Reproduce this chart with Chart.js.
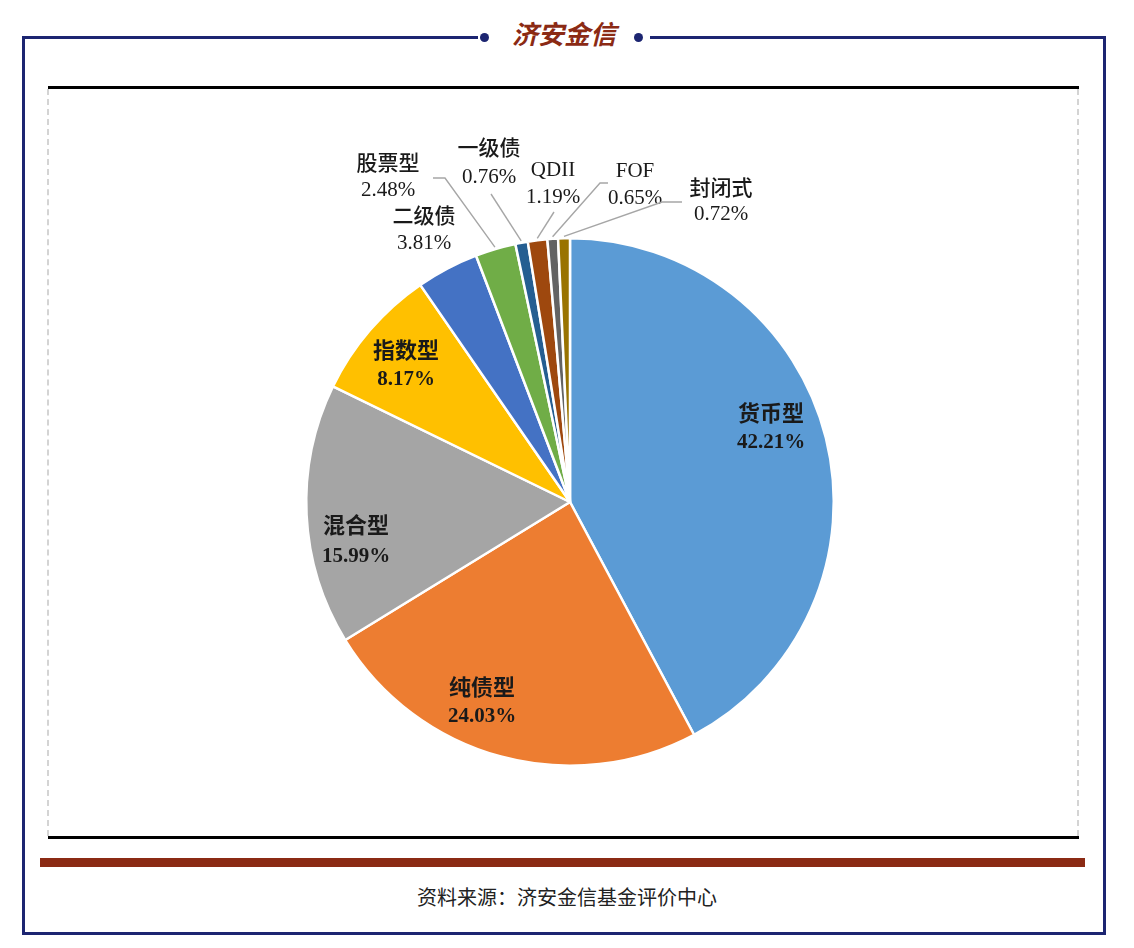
<!DOCTYPE html>
<html>
<head>
<meta charset="utf-8">
<script src="https://cdn.jsdelivr.net/npm/chart.js@4"></script>
<style>
  html,body{margin:0;padding:0;background:#fff;}
  #page{position:relative;width:1134px;height:948px;overflow:hidden;background:#fff;}
  .frame{position:absolute;left:22px;top:36px;width:1078px;height:893px;border:3px solid #1c2571;box-sizing:content-box;}
  .titlewrap{position:absolute;left:478px;top:18px;width:172px;height:34px;background:#fff;}
  .dot{position:absolute;width:9px;height:9px;border-radius:50%;background:#1c2571;top:33px;}
  .title{position:absolute;left:478px;top:15px;width:172px;text-align:center;font:italic bold 26px "Noto Sans CJK SC";color:#8b2a14;line-height:36px;}
  .topline{position:absolute;left:48px;top:86px;width:1031px;height:3px;background:#000;}
  .botline{position:absolute;left:48px;top:836px;width:1031px;height:3px;background:#000;}
  .side{position:absolute;top:89px;height:747px;width:0;border-left:2px dashed #d4d4d4;}
  .redbar{position:absolute;left:40px;top:858px;width:1045px;height:9px;background:#8b2a14;}
  .footer{position:absolute;left:0;width:1134px;top:882px;text-align:center;font:20px "Noto Sans CJK SC";color:#222;line-height:30px;}
  canvas{position:absolute;left:0;top:0;}
</style>
</head>
<body>
<div id="page">
  <div class="frame"></div>
  <div class="titlewrap"></div>
  <div class="dot" style="left:480px"></div>
  <div class="dot" style="left:634px"></div>
  <div class="title">济安金信</div>
  <div class="topline"></div>
  <div class="side" style="left:47px"></div>
  <div class="side" style="left:1077px"></div>
  <div class="botline"></div>
  <div class="redbar"></div>
  <div class="footer">资料来源：济安金信基金评价中心</div>
  <div style="position:absolute;left:0;top:0;width:1134px;height:948px;">
    <canvas id="c" width="1134" height="948"></canvas>
  </div>
</div>
<script>
// ---- data ----
const categories = ['货币型','纯债型','混合型','指数型','二级债','股票型','一级债','QDII','FOF','封闭式'];
const shares = [42.21, 24.03, 15.99, 8.17, 3.81, 2.48, 0.76, 1.19, 0.65, 0.72];
const percentLabels = ['42.21%','24.03%','15.99%','8.17%','3.81%','2.48%','0.76%','1.19%','0.65%','0.72%'];

// ---- styling / layout (not data) ----
const colors = ['#5b9bd5','#ed7d31','#a5a5a5','#ffc000','#4472c4','#70ad47','#255e91','#9e480e','#636363','#997300'];
// label offsets from pie centre; leader points also relative to centre
const labelLayout = [
  {dx:201, dy:-73, inside:true, gap:28},
  {dx:-88, dy:201, inside:true, gap:27},
  {dx:-214,dy:40,  inside:true, gap:29},
  {dx:-164,dy:-136,inside:true, gap:28},
  {dx:-146,dy:-272,gap:26},
  {dx:-182,dy:-325,gap:26, leader:[[-125,-324],[-137,-324]]},
  {dx:-81, dy:-339,gap:28, leader:[[-79,-308]]},
  {dx:-17, dy:-318,gap:27, leader:[[-16,-290]]},
  {dx:65,  dy:-317,gap:27, leader:[[30,-319],[38,-319]]},
  {dx:151, dy:-300,gap:25, leader:[[92,-300],[112,-300]]}
];

const labelPlugin = {
  id:'sliceLabels',
  afterDatasetsDraw(chart){
    const ctx = chart.ctx;
    const meta = chart.getDatasetMeta(0);
    meta.data.forEach((arc,i)=>{
      const p = arc.getProps(['x','y','startAngle','endAngle','outerRadius'], true);
      const L = labelLayout[i];
      const mid = (p.startAngle + p.endAngle)/2;
      ctx.save();
      if (L.leader){
        ctx.strokeStyle = '#a6a6a6';
        ctx.lineWidth = 1.4;
        ctx.beginPath();
        ctx.moveTo(p.x + Math.cos(mid)*(p.outerRadius+2), p.y + Math.sin(mid)*(p.outerRadius+2));
        L.leader.forEach(pt=>ctx.lineTo(p.x+pt[0], p.y+pt[1]));
        ctx.stroke();
      }
      const cx = p.x + L.dx, cy = p.y + L.dy;
      ctx.fillStyle = '#1a1a1a';
      ctx.textAlign = 'center';
      ctx.textBaseline = 'middle';
      const w = L.inside ? 'bold ' : '500 ';
      ctx.font = w + (L.inside ? '22px' : '21px') + ' "Liberation Serif", "Noto Sans CJK SC"';
      ctx.fillText(categories[i], cx, cy - L.gap/2);
      ctx.font = w + '21px "Liberation Serif", "Noto Sans CJK SC"';
      ctx.fillText(percentLabels[i], cx, cy + L.gap/2);
      ctx.restore();
    });
  }
};

new Chart(document.getElementById('c'), {
  type:'pie',
  data:{
    labels: categories,
    datasets:[{
      data: shares,
      backgroundColor: colors,
      borderColor:'#ffffff',
      borderWidth:2.5
    }]
  },
  options:{
    responsive:false,
    animation:false,
    events:[],
    layout:{padding:{left:305,right:299,top:237,bottom:181}},
    plugins:{legend:{display:false},tooltip:{enabled:false},title:{display:false}}
  },
  plugins:[labelPlugin]
});
</script>
</body>
</html>
